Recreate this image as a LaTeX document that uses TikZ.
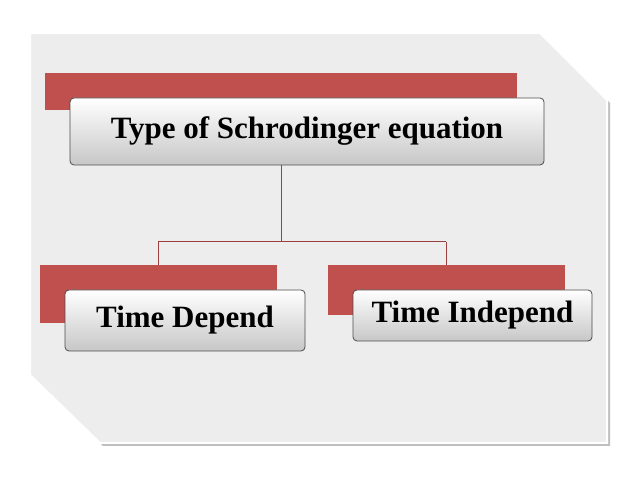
\documentclass[tikz,border=0pt]{standalone}
\usepackage{fontspec}
\setmainfont{Liberation Serif}
\definecolor{barred}{RGB}{192,80,77}
\begin{document}
\begin{tikzpicture}[x=1pt,y=-1pt,
  redbar/.style={fill=barred, draw=none},
  graybox/.style={draw=black!70, line width=0.8pt, rounded corners=4pt,
    top color=white, bottom color=black!22},
  lbl/.style={font=\bfseries\fontsize{31}{36}\selectfont},
  conn/.style={draw=barred!80!black, line width=1pt}]
\useasboundingbox (0,0) rectangle (638,478);
\fill[white] (0,0) rectangle (638,478);
\fill[black!25] (33,36) -- (543,36) -- (610,103) -- (610,446) -- (103,446) -- (33,378) -- cycle;
\filldraw[fill=black!7, draw=white, line width=2pt] (30,33) -- (540,33) -- (607,100) -- (607,443) -- (100,443) -- (30,375) -- cycle;
% top
\fill[redbar] (45,73) rectangle (517,110);
\path[graybox] (70,98) rectangle (544,165);
\node[lbl] (top) at (307,131.5) {Type of Schrodinger equation};
% left
\fill[redbar] (40,265) rectangle (277,323);
\path[graybox] (65,290) rectangle (305,351);
\node[lbl] (left) at (185,320.5) {Time Depend};
% right
\fill[redbar] (328,265) rectangle (565,315);
\path[graybox] (353,290) rectangle (592,341);
\node[lbl] (right) at (472.5,315.5) {Time Independ};
\coordinate (a) at (281,165);
\coordinate (b) at (281,242);
\coordinate (l) at (158,242);
\coordinate (r) at (446,242);
\coordinate (ld) at (158,265);
\coordinate (rd) at (446,265);
\draw[conn] (a) -- (b) (l) -- (r) (l) -- (ld) (r) -- (rd);
\end{tikzpicture}
\end{document}
